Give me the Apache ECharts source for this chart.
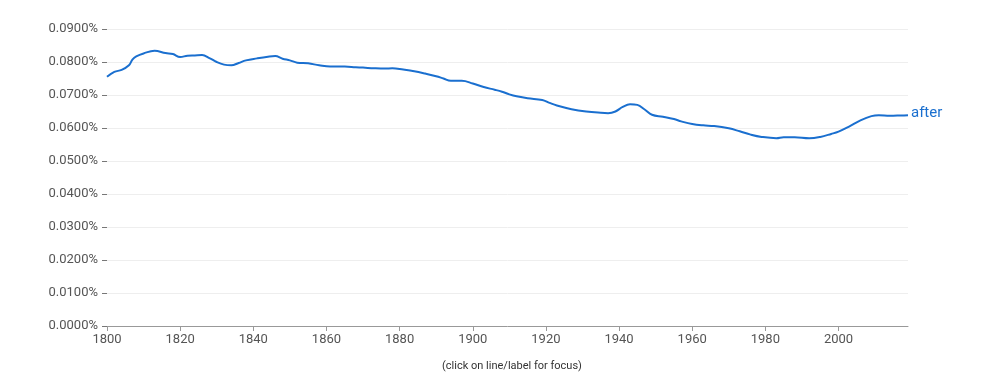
<!DOCTYPE html>
<html>
<head>
<meta charset="utf-8">
<script src="https://cdn.jsdelivr.net/npm/echarts@6/dist/echarts.min.js"></script>
<style>html,body{margin:0;padding:0;background:#fff;}#c{width:1000px;height:389px;}</style>
</head>
<body>
<div id="c"></div>
<script>
const seriesName = 'after';
const years = [1800,1802,1804,1806,1807,1808,1810,1813,1816,1818,1820,1822,1824,1826,1828,1830,1832,1834,1836,1838,1841,1844,1846,1848,1850,1852,1855,1858,1861,1865,1868,1870,1873,1876,1878,1881,1884,1887,1890,1892,1894,1897,1900,1903,1906,1908,1910,1912,1915,1919,1921,1923,1927,1931,1935,1937,1939,1941,1943,1945,1947,1949,1952,1955,1957,1960,1963,1966,1970,1973,1976,1979,1983,1985,1988,1992,1995,1998,2000,2003,2006,2009,2011,2014,2017,2019];
const values = [0.0755,0.0770,0.0776,0.0790,0.0808,0.0817,0.0826,0.0834,0.0827,0.0824,0.0815,0.0819,0.0820,0.0821,0.0812,0.0800,0.0792,0.0790,0.0797,0.0805,0.0811,0.0816,0.0818,0.0810,0.0805,0.0798,0.0796,0.0790,0.0786,0.0786,0.0784,0.0783,0.0781,0.0780,0.0781,0.0777,0.0772,0.0765,0.0757,0.0750,0.0743,0.0743,0.0735,0.0724,0.0716,0.0710,0.0702,0.0696,0.0690,0.0685,0.0676,0.0668,0.0657,0.0650,0.0646,0.0645,0.0650,0.0664,0.0672,0.0670,0.0656,0.0640,0.0634,0.0627,0.0620,0.0612,0.0608,0.0606,0.0599,0.0590,0.0580,0.0573,0.0569,0.0572,0.0572,0.0569,0.0573,0.0582,0.0589,0.0605,0.0623,0.0636,0.0639,0.0637,0.0638,0.0639];
const yTicks = [0,0.01,0.02,0.03,0.04,0.05,0.06,0.07,0.08,0.09];
const xTicks = [1800,1820,1840,1860,1880,1900,1920,1940,1960,1980,2000];
const footer = '(click on line/label for focus)';

const chart = echarts.init(document.getElementById('c'), null, {renderer:'canvas'});
const lineColor = '#1a6fcf';
chart.setOption({
  animation: false,
  backgroundColor: '#fff',
  title: {
    text: footer, left: 507, top: 356, textAlign: 'center',
    textStyle: {fontFamily: 'Roboto', fontSize: 11, fontWeight: 'normal', color: '#333'}
  },
  grid: {left: 107, right: 92, top: 29, bottom: 63},
  xAxis: {
    type: 'value', min: 1800, max: 2019, interval: 20,
    axisLine: {show: true, lineStyle: {color: '#999', width: 1}},
    axisTick: {show: true, length: 5, lineStyle: {color: '#999'}, customValues: xTicks},
    axisLabel: {fontFamily: 'Roboto', fontSize: 13, color: '#555', margin: 7, customValues: xTicks,
      formatter: v => String(v)},
    splitLine: {show: false}
  },
  yAxis: {
    type: 'value', min: 0, max: 0.09, interval: 0.01,
    axisLine: {show: false},
    axisTick: {show: true, length: 5, lineStyle: {color: '#777'}},
    axisLabel: {fontFamily: 'Roboto', fontSize: 13, color: '#555', margin: 9,
      formatter: v => v.toFixed(4) + '%'},
    splitLine: {show: true, lineStyle: {color: '#eeeeee', width: 1}}
  },
  series: [{
    name: seriesName, type: 'line', smooth: 0.4, showSymbol: false,
    data: years.map((y,i) => [y, values[i]]),
    lineStyle: {color: lineColor, width: 2},
    itemStyle: {color: lineColor},
    endLabel: {show: true, formatter: '{a}', color: lineColor, fontFamily: 'Roboto', fontSize: 15, distance: 3, offset: [0, -2]}
  }]
});
</script>
</body>
</html>
